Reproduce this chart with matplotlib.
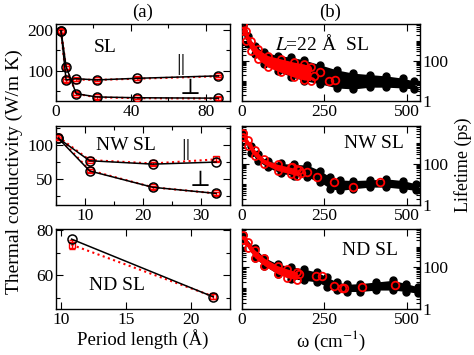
import numpy as np
import matplotlib
matplotlib.use("Agg")
import matplotlib.pyplot as plt
from matplotlib.ticker import MultipleLocator, FixedLocator, NullFormatter

plt.rcParams['font.family'] = ['Liberation Serif', 'DejaVu Serif']
plt.rcParams['mathtext.fontset'] = 'stix'

# ---------------- (a) thermal conductivity vs period length ----------------
sl_x = [2.7, 5.4, 10.8, 21.7, 43.4, 86.8]
sl_par = [198, 77, 80, 77, 81, 87]
sl_perp = [198, 110, 43, 35, 33, 32]
sl_par_md = [198, 76, 78, 77, 80, 86]
sl_perp_md = [198, 108, 43, 34, 32, 31]
sl_err = [4, 3, 3, 3, 3, 3]

nw_x = [5.4, 10.8, 21.7, 32.6]
nw_par = [110, 77, 72, 75]
nw_perp = [110, 62, 38, 29]
nw_par_md = [112, 78, 73, 79]
nw_perp_md = [112, 63, 38, 29]
nw_err = [3, 2, 2, 2]

nd_x = [10.8, 21.7]
nd_k = [76, 50.4]
nd_k_md = [73.5, 50.6]
nd_err = [2.0, 1.0]

# ---------------- (b) lifetime vs frequency (log10 of ps) ----------------
# black cloud envelopes
sl_w = [2, 18, 38, 68, 108, 148, 188, 238, 288, 338, 388, 438, 488, 523]
sl_top = [3.77, 3.27, 2.77, 2.44, 2.27, 2.19, 2.05, 1.80, 1.55, 1.39, 1.32, 1.25, 1.14, 0.99]
sl_bot = [3.52, 2.85, 2.35, 1.85, 1.49, 1.22, 1.02, 0.85, 0.65, 0.60, 0.69, 0.69, 0.65, 0.60]
# red (MD) dense band + isolated circles
sl_rw = [3, 13, 28, 48, 78, 118, 158, 188, 208]
sl_rtop = [3.85, 3.52, 3.02, 2.60, 2.27, 2.10, 1.94, 1.85, 1.69]
sl_rbot = [3.52, 3.02, 2.52, 2.10, 1.69, 1.43, 1.19, 1.05, 1.02]
sl_iw = [198, 218, 238, 263, 283]
sl_it = [1.60, 1.27, 1.44, 1.02, 1.05]

nw_w = [3, 28, 48, 78, 118, 158, 198, 238, 268, 298, 338, 388, 438, 488, 528]
nw_top = [3.49, 2.86, 2.46, 2.14, 2.02, 1.98, 1.94, 1.67, 1.35, 1.22, 1.19, 1.22, 1.27, 1.19, 1.03]
nw_bot = [3.33, 2.54, 2.14, 1.83, 1.54, 1.43, 1.35, 1.11, 0.79, 0.71, 0.79, 0.87, 0.87, 0.79, 0.71]
nw_rw = [3, 18, 38, 68, 108, 148, 168]
nw_rtop = [3.49, 3.17, 2.70, 2.22, 1.98, 1.83, 1.75]
nw_rbot = [3.33, 2.86, 2.38, 1.98, 1.67, 1.51, 1.43]
nw_iw = [153, 173, 178, 198, 228, 280, 338, 420]
nw_it = [1.83, 1.70, 1.54, 1.59, 1.35, 1.11, 0.90, 1.10]

nd_w = [3, 38, 68, 108, 148, 188, 228, 258, 288, 318, 358, 408, 458, 498, 533]
nd_top = [3.55, 2.93, 2.47, 2.16, 2.03, 1.92, 1.77, 1.53, 1.30, 1.19, 1.22, 1.30, 1.38, 1.22, 1.07]
nd_bot = [3.32, 2.47, 2.08, 1.69, 1.46, 1.38, 1.30, 1.07, 0.91, 0.84, 0.84, 0.91, 0.91, 0.84, 0.76]
nd_rw = [3, 18, 38, 68, 108, 138, 168]
nd_rtop = [3.55, 3.24, 2.85, 2.44, 2.08, 1.92, 1.77]
nd_rbot = [3.32, 2.93, 2.47, 2.08, 1.69, 1.50, 1.41]
nd_iw = [173, 223, 243, 280, 303, 310, 363, 463]
nd_it = [1.69, 1.61, 1.58, 1.12, 1.02, 0.99, 1.07, 1.15]

W, H = 474, 355
fig = plt.figure(figsize=(W / 100, H / 100), dpi=100)

def ax_at(x0, x1, y0, y1):
    return fig.add_axes([x0 / W, 1 - y1 / H, (x1 - x0) / W, (y1 - y0) / H])

rows = [(24, 101), (126, 205), (229, 309)]
FS = 13
TFS = 12.5

def style(ax):
    ax.tick_params(direction='in', which='both', top=True, right=True, labelsize=TFS, pad=2)
    ax.tick_params(which='major', length=5, width=0.8)
    ax.tick_params(which='minor', length=3, width=0.8)
    for s in ax.spines.values():
        s.set_linewidth(1.0)

def kplot(ax, x, k, kmd, err):
    ax.plot(x, kmd, ':', color='red', lw=1.5, zorder=2)
    ax.errorbar(x, kmd, yerr=err, fmt='s', ms=4, mfc='none', mec='red', ecolor='red',
                elinewidth=1, capsize=2.5, zorder=3)
    ax.plot(x, k, '-', color='black', lw=1.1, marker='o', ms=6.5, mfc='none',
            mec='black', mew=1.1, zorder=4)

# (a) row 1
a1 = ax_at(56, 230, *rows[0])
kplot(a1, sl_x, sl_par, sl_par_md, sl_err)
kplot(a1, sl_x, sl_perp, sl_perp_md, sl_err)
a1.set_xlim(0, 93)
a1.set_ylim(25, 215)
a1.xaxis.set_major_locator(MultipleLocator(40))
a1.xaxis.set_minor_locator(MultipleLocator(20))
a1.yaxis.set_major_locator(MultipleLocator(100))
a1.yaxis.set_minor_locator(MultipleLocator(50))
style(a1)
a1.text(0.28, 0.70, 'SL', transform=a1.transAxes, fontsize=FS + 1, ha='center', va='center')
a1.text(0.715, 0.48, '||', transform=a1.transAxes, fontsize=FS + 4, ha='center', va='center')
a1.text(0.77, 0.15, '⊥', transform=a1.transAxes, fontsize=FS + 3, ha='center', va='center')

# (a) row 2
a2 = ax_at(56, 230, *rows[1])
kplot(a2, nw_x, nw_par, nw_par_md, nw_err)
kplot(a2, nw_x, nw_perp, nw_perp_md, nw_err)
a2.set_xlim(5, 35)
a2.set_ylim(12, 128)
a2.xaxis.set_major_locator(MultipleLocator(10))
a2.xaxis.set_minor_locator(MultipleLocator(5))
a2.yaxis.set_major_locator(MultipleLocator(50))
a2.yaxis.set_minor_locator(MultipleLocator(25))
style(a2)
a2.text(0.40, 0.75, 'NW SL', transform=a2.transAxes, fontsize=FS + 1, ha='center', va='center')
a2.text(0.745, 0.70, '||', transform=a2.transAxes, fontsize=FS + 4, ha='center', va='center')
a2.text(0.83, 0.30, '⊥', transform=a2.transAxes, fontsize=FS + 3, ha='center', va='center')

# (a) row 3
a3 = ax_at(56, 230, *rows[2])
kplot(a3, nd_x, nd_k, nd_k_md, nd_err)
a3.set_xlim(9.6, 23)
a3.set_ylim(45, 80.5)
a3.xaxis.set_major_locator(MultipleLocator(5))
a3.yaxis.set_major_locator(MultipleLocator(20))
a3.yaxis.set_minor_locator(MultipleLocator(10))
style(a3)
a3.text(0.35, 0.30, 'ND SL', transform=a3.transAxes, fontsize=FS + 1, ha='center', va='center')
a3.set_xlabel('Period length (Å)', fontsize=FS + 0.5, labelpad=1)

# (b) panels
def lplot(ax, w, top, bot, rw, rtop, rbot, iw, it):
    top_v = 10 ** np.array(top)
    bot_v = 10 ** np.array(bot)
    ax.fill_between(w, bot_v, top_v, color='black', lw=0, zorder=1)
    ax.plot(w, top_v, 'o', color='black', ms=5, zorder=1)
    ax.plot(w, bot_v, 'o', color='black', ms=5, zorder=1)
    rt = 10 ** np.array(rtop)
    rb = 10 ** np.array(rbot)
    ax.fill_between(rw, rb, rt, color='red', lw=0, zorder=2)
    for arr in (rt, rb):
        ax.plot(rw, arr, 'o', ms=5, mfc='none', mec='red', mew=1.3, zorder=3)
    ax.plot(iw, 10 ** np.array(it), 'o', ms=5.5, mfc='none', mec='red', mew=1.3, zorder=3)
    ax.set_yscale('log')
    ax.set_xlim(0, 540)
    ax.set_ylim(1, 7000)
    ax.xaxis.set_major_locator(MultipleLocator(250))
    ax.yaxis.set_major_locator(FixedLocator([1, 100]))
    ax.yaxis.set_minor_locator(FixedLocator([m * 10 ** d for d in range(0, 4) for m in range(2, 10)] + [10, 1000]))
    ax.yaxis.set_minor_formatter(NullFormatter())
    ax.set_yticklabels(['1', '100'])
    style(ax)
    ax.tick_params(labelleft=False, labelright=True)

b1 = ax_at(242, 420, *rows[0])
lplot(b1, sl_w, sl_top, sl_bot, sl_rw, sl_rtop, sl_rbot, sl_iw, sl_it)
b1.text(0.45, 0.74, '$\\mathit{L}$=22 Å  SL', transform=b1.transAxes, fontsize=FS + 1, ha='center', va='center')

b2 = ax_at(242, 420, *rows[1])
lplot(b2, nw_w, nw_top, nw_bot, nw_rw, nw_rtop, nw_rbot, nw_iw, nw_it)
b2.text(0.74, 0.78, 'NW SL', transform=b2.transAxes, fontsize=FS + 1, ha='center', va='center')

b3 = ax_at(242, 420, *rows[2])
lplot(b3, nd_w, nd_top, nd_bot, nd_rw, nd_rtop, nd_rbot, nd_iw, nd_it)
b3.text(0.72, 0.73, 'ND SL', transform=b3.transAxes, fontsize=FS + 1, ha='center', va='center')
b3.set_xlabel('ω (cm$^{-1}$)', fontsize=FS + 0.5, labelpad=1)

fig.text(143 / W, 1 - 12 / H, '(a)', fontsize=FS + 0.5, ha='center', va='center')
fig.text(330 / W, 1 - 12 / H, '(b)', fontsize=FS + 0.5, ha='center', va='center')
fig.text(14 / W, 1 - 172 / H, 'Thermal conductivity (W/m K)', fontsize=FS + 1, rotation=90,
         ha='center', va='center')
fig.text(463 / W, 1 - 165 / H, 'Lifetime (ps)', fontsize=FS, rotation=90, ha='center', va='center')

fig.savefig('out.png', dpi=100)
